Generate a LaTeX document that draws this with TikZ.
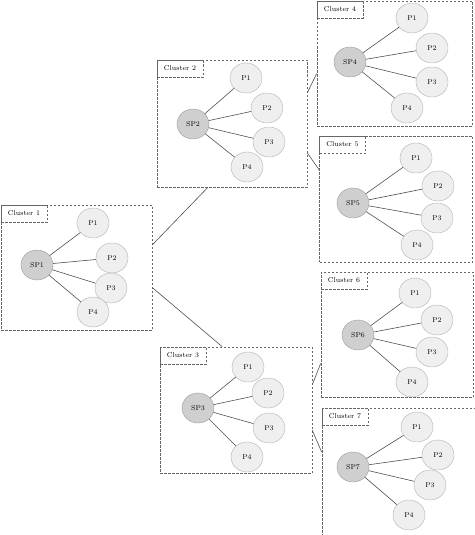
\documentclass[tikz,border=0pt]{standalone}
\usetikzlibrary{shapes.geometric,calc}
\definecolor{peerfill}{HTML}{EFEFEF}
\definecolor{peerline}{HTML}{B0B0B0}
\definecolor{superfill}{HTML}{CFCFCF}
\definecolor{superline}{HTML}{9A9A9A}
\definecolor{boxline}{HTML}{666666}
\definecolor{linkline}{HTML}{505050}
\tikzset{
  peer/.style={ellipse, draw=peerline, fill=peerfill, minimum width=32pt, minimum height=30pt, inner sep=0pt, font=\fontsize{7}{8}\selectfont},
  superpeer/.style={peer, draw=superline, fill=superfill},
  clusterbox/.style={draw=boxline, dash pattern=on 2.5pt off 1.5pt, line width=0.6pt, inner sep=0pt},
  clusterlabel/.style={clusterbox, anchor=north west, minimum width=46pt, minimum height=17pt, font=\fontsize{7}{8}\selectfont},
  link/.style={draw=linkline, line width=0.6pt}
}
\begin{document}
\begin{tikzpicture}[x=1pt,y=-1pt]
		\useasboundingbox (0,0) rectangle (474,535);
		% Cluster boxes
		\node[clusterbox, minimum width=151pt, minimum height=125pt] (c1) at (76.5,267.5) {};
		\node[clusterbox, minimum width=150pt, minimum height=127pt] (c2) at (232,123.5) {};
		\node[clusterbox, minimum width=152pt, minimum height=126pt] (c3) at (236,410) {};
		\node[clusterbox, minimum width=155pt, minimum height=125pt] (c4) at (394.5,63.5) {};
		\node[clusterbox, minimum width=153pt, minimum height=126pt] (c5) at (396,199) {};
		\node[clusterbox, minimum width=152pt, minimum height=125pt] (c6) at (397,334.5) {};
		\node[clusterbox, minimum width=160pt, minimum height=134pt] (c7) at (402,475) {};
		% Labels
		\node[clusterlabel] (l1) at (c1.north west) {Cluster 1};
		\node[clusterlabel] (l2) at (c2.north west) {Cluster 2};
		\node[clusterlabel] (l3) at (c3.north west) {Cluster 3};
		\node[clusterlabel] (l4) at (c4.north west) {Cluster 4};
		\node[clusterlabel] (l5) at (c5.north west) {Cluster 5};
		\node[clusterlabel] (l6) at (c6.north west) {Cluster 6};
		\node[clusterlabel] (l7) at (c7.north west) {Cluster 7};
		% Links between clusters
		\draw[link] ($(c1.north east)!0.32!(c1.south east)$) -- ($(c2.south west)!0.34!(c2.south east)$);
		\draw[link] ($(c1.north east)!0.66!(c1.south east)$) -- ($(c3.north west)!0.41!(c3.north east)$);
		\draw[link] ($(c2.north east)!0.26!(c2.south east)$) -- ($(c4.north west)!0.58!(c4.south west)$);
		\draw[link] ($(c2.north east)!0.73!(c2.south east)$) -- ($(c5.north west)!0.27!(c5.south west)$);
		\draw[link] ($(c3.north east)!0.30!(c3.south east)$) -- ($(c6.north west)!0.73!(c6.south west)$);
		\draw[link] ($(c3.north east)!0.66!(c3.south east)$) -- ($(c7.north west)!0.33!(c7.south west)$);
		% Cluster 1
		\node[superpeer] (sp1) at (37,265) {SP1};
		\node[peer] (c1p1) at (93,223) {P1};
		\node[peer] (c1p2) at (112,258) {P2};
		\node[peer] (c1p3) at (111,288) {P3};
		\node[peer] (c1p4) at (93,312) {P4};
		% Cluster 2
		\node[superpeer] (sp2) at (193,124) {SP2};
		\node[peer] (c2p1) at (246,78) {P1};
		\node[peer] (c2p2) at (267,108) {P2};
		\node[peer] (c2p3) at (269,142) {P3};
		\node[peer] (c2p4) at (247,167) {P4};
		% Cluster 3
		\node[superpeer] (sp3) at (198,408) {SP3};
		\node[peer] (c3p1) at (248,367) {P1};
		\node[peer] (c3p2) at (268,393) {P2};
		\node[peer] (c3p3) at (269,428) {P3};
		\node[peer] (c3p4) at (247,457) {P4};
		% Cluster 4
		\node[superpeer] (sp4) at (350,62) {SP4};
		\node[peer] (c4p1) at (412,18) {P1};
		\node[peer] (c4p2) at (432,48) {P2};
		\node[peer] (c4p3) at (432,82) {P3};
		\node[peer] (c4p4) at (407,108) {P4};
		% Cluster 5
		\node[superpeer] (sp5) at (353,203) {SP5};
		\node[peer] (c5p1) at (416,158) {P1};
		\node[peer] (c5p2) at (438,186) {P2};
		\node[peer] (c5p3) at (437,218) {P3};
		\node[peer] (c5p4) at (417,245) {P4};
		% Cluster 6
		\node[superpeer] (sp6) at (358,335) {SP6};
		\node[peer] (c6p1) at (415,293) {P1};
		\node[peer] (c6p2) at (437,320) {P2};
		\node[peer] (c6p3) at (432,352) {P3};
		\node[peer] (c6p4) at (412,382) {P4};
		% Cluster 7
		\node[superpeer] (sp7) at (353,467) {SP7};
		\node[peer] (c7p1) at (417,427) {P1};
		\node[peer] (c7p2) at (438,455) {P2};
		\node[peer] (c7p3) at (430,485) {P3};
		\node[peer] (c7p4) at (409,515) {P4};
		% Links to peers
		\foreach \c in {1,...,7}
			\foreach \p in {1,...,4}
				\draw[link] (sp\c) -- (c\c p\p);
	\end{tikzpicture}
\end{document}
